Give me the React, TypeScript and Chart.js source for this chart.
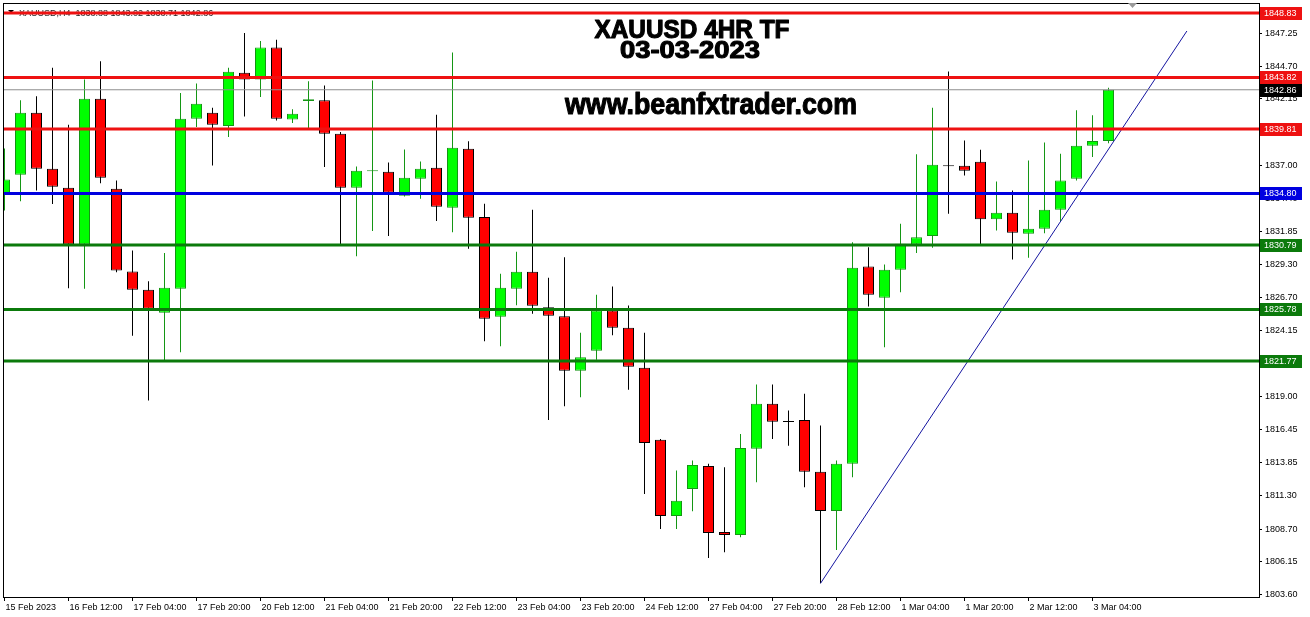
import React, { useEffect, useRef } from 'react';
import { Chart, registerables } from 'chart.js';

Chart.register(...registerables);

// ---------------- data ----------------
const symbolHeader = 'XAUUSD,H4  1838.88 1843.02 1838.71 1842.86';
const titleLine1 = 'XAUUSD 4HR TF';
const titleLine2 = '03-03-2023';
const siteText = 'www.beanfxtrader.com';

const opens = [
  1834.75, 1836.26, 1841.08, 1836.72, 1835.24, 1830.83, 1842.17, 1835.17, 1828.73, 1827.31,
  1825.52, 1827.39, 1840.61, 1841.08, 1840.04, 1844.19, 1843.65, 1846.14, 1840.54, 1841.98,
  1842.04, 1839.45, 1835.24, 1836.53, 1836.49, 1834.62, 1835.94, 1836.80, 1833.69, 1838.28,
  1832.96, 1825.21, 1827.39, 1828.71, 1825.95, 1825.25, 1821.01, 1822.56, 1825.70, 1824.35,
  1821.24, 1815.64, 1809.72, 1811.82, 1813.61, 1808.48, 1808.24, 1814.94, 1818.44, 1817.10,
  1817.19, 1813.15, 1810.11, 1813.77, 1829.12, 1826.69, 1828.86, 1830.83, 1831.48, 1837.00,
  1836.96, 1837.27, 1832.80, 1833.30, 1831.66, 1832.05, 1833.53, 1835.94, 1838.51, 1838.88,
];
const highs = [
  1838.30, 1842.04, 1842.35, 1844.58, 1840.15, 1843.65, 1845.07, 1835.81, 1830.37, 1827.98,
  1830.16, 1842.60, 1843.34, 1841.47, 1844.58, 1847.27, 1846.65, 1846.76, 1841.34, 1843.52,
  1843.20, 1839.57, 1836.90, 1843.59, 1837.21, 1838.22, 1837.29, 1840.92, 1845.75, 1838.85,
  1834.00, 1828.55, 1830.26, 1833.53, 1828.24, 1829.84, 1823.96, 1826.92, 1827.56, 1826.09,
  1823.96, 1815.71, 1813.25, 1814.03, 1813.77, 1813.50, 1816.10, 1819.94, 1819.94, 1817.92,
  1819.22, 1816.75, 1814.03, 1831.01, 1830.62, 1829.28, 1832.44, 1837.84, 1841.47, 1844.29,
  1838.92, 1838.20, 1835.73, 1835.03, 1837.37, 1838.77, 1837.89, 1841.26, 1840.87, 1843.02,
];
const lows = [
  1833.48, 1834.20, 1835.03, 1833.97, 1827.43, 1827.39, 1835.60, 1828.68, 1823.73, 1818.69,
  1821.81, 1822.45, 1839.96, 1836.98, 1839.18, 1840.79, 1842.29, 1840.48, 1840.27, 1839.83,
  1836.85, 1830.83, 1829.92, 1831.87, 1831.48, 1834.57, 1834.39, 1832.65, 1831.79, 1830.50,
  1823.31, 1822.92, 1826.11, 1825.44, 1817.19, 1818.25, 1818.95, 1821.86, 1823.77, 1819.53,
  1811.43, 1808.71, 1808.71, 1810.08, 1806.45, 1806.89, 1808.06, 1812.34, 1815.71, 1815.17,
  1811.95, 1804.48, 1807.08, 1812.73, 1826.01, 1822.84, 1827.12, 1830.16, 1830.58, 1833.22,
  1836.20, 1830.83, 1831.92, 1829.67, 1829.80, 1831.71, 1832.57, 1835.81, 1837.63, 1838.71,
];
const closes = [
  1835.89, 1841.08, 1836.72, 1835.32, 1830.83, 1842.17, 1836.02, 1828.81, 1827.31, 1825.83,
  1827.46, 1840.61, 1841.78, 1840.15, 1844.27, 1843.65, 1846.14, 1840.61, 1841.00, 1842.12,
  1839.45, 1835.24, 1836.57, 1836.61, 1834.85, 1836.02, 1836.72, 1833.77, 1838.36, 1832.91,
  1825.05, 1827.46, 1828.71, 1826.06, 1825.28, 1821.01, 1822.06, 1825.70, 1824.35, 1821.32,
  1815.40, 1809.72, 1810.91, 1813.69, 1808.40, 1808.24, 1815.01, 1818.44, 1817.04, 1817.02,
  1813.15, 1810.11, 1813.77, 1829.02, 1826.92, 1828.86, 1830.89, 1831.40, 1837.03, 1836.92,
  1836.57, 1832.80, 1833.30, 1831.74, 1832.05, 1833.53, 1835.81, 1838.51, 1838.88, 1842.86,
];

const xTickLabels = [
  '15 Feb 2023', '16 Feb 12:00', '17 Feb 04:00', '17 Feb 20:00', '20 Feb 12:00', '21 Feb 04:00',
  '21 Feb 20:00', '22 Feb 12:00', '23 Feb 04:00', '23 Feb 20:00', '24 Feb 12:00', '27 Feb 04:00',
  '27 Feb 20:00', '28 Feb 12:00', '1 Mar 04:00', '1 Mar 20:00', '2 Mar 12:00', '3 Mar 04:00',
];
const BARS_PER_LABEL = 4;

const yTickLabels = [
  '1847.25', '1844.70', '1842.15', '1839.55', '1837.00', '1834.40', '1831.85', '1829.30', '1826.70',
  '1824.15', '1821.55', '1819.00', '1816.45', '1813.85', '1811.30', '1808.70', '1806.15', '1803.60',
];

const resistanceLevels = [1848.83, 1843.82, 1839.81];
const pivotLevels = [1834.8];
const supportLevels = [1830.79, 1825.78, 1821.77];
const lastPrice = 1842.86;
const trendFrom = { bar: 51, price: 1804.48 };
const trendTo = { bar: 73.9, price: 1847.43 };

// ---------------- style ----------------
const FONT = '"Liberation Sans", Arial, sans-serif';
const RED = '#ee1111';
const BLUE = '#0000e0';
const GREEN = '#0b7a0b';
const BULL_FILL = '#00ff00';
const BULL_LINE = '#149614';
const BEAR_FILL = '#ff0000';
const BEAR_LINE = '#000000';
const X_MIN = -0.09375;
const X_MAX = 78.40625;
const Y_MIN = 1803.418;
const Y_MAX = 1849.608;

function fitText(ctx: CanvasRenderingContext2D, text: string, cx: number, baseline: number, size: number, width: number) {
  ctx.save();
  ctx.font = `bold ${size}px ${FONT}`;
  const w = ctx.measureText(text).width;
  ctx.translate(cx, baseline);
  ctx.scale(width / w, 1);
  ctx.textAlign = 'center';
  ctx.textBaseline = 'alphabetic';
  ctx.fillStyle = '#000';
  ctx.strokeStyle = '#000';
  ctx.lineWidth = 1.1;
  ctx.lineJoin = 'round';
  ctx.fillText(text, 0, 0);
  ctx.strokeText(text, 0, 0);
  ctx.restore();
}

const overlayPlugin = {
  id: 'mtOverlay',
  beforeDatasetsDraw(chart: any) {
    const ctx: CanvasRenderingContext2D = chart.ctx;
    ctx.save();
    ctx.fillStyle = '#000';
    ctx.beginPath();
    ctx.moveTo(8, 10);
    ctx.lineTo(14, 10);
    ctx.lineTo(11, 13);
    ctx.closePath();
    ctx.fill();
    ctx.font = `9px ${FONT}`;
    ctx.textAlign = 'left';
    ctx.textBaseline = 'alphabetic';
    ctx.fillStyle = '#222';
    ctx.fillText(symbolHeader, 19, 16);
    ctx.restore();
  },
  afterDraw(chart: any) {
    const ctx: CanvasRenderingContext2D = chart.ctx;
    const a = chart.chartArea;
    const y = chart.scales.y;
    ctx.save();
    // frame
    ctx.strokeStyle = '#000';
    ctx.lineWidth = 1;
    ctx.strokeRect(a.left + 0.5, a.top + 0.5, a.right - a.left, a.bottom - a.top);

    // shift marker
    ctx.fillStyle = '#9a9a9a';
    ctx.beginPath();
    ctx.moveTo(1128, 3);
    ctx.lineTo(1137, 3);
    ctx.lineTo(1132.5, 8);
    ctx.closePath();
    ctx.fill();

    // price boxes
    const boxes: [number, string][] = [
      ...resistanceLevels.map((v) => [v, RED] as [number, string]),
      ...pivotLevels.map((v) => [v, BLUE] as [number, string]),
      ...supportLevels.map((v) => [v, GREEN] as [number, string]),
      [lastPrice, '#000000'],
    ];
    ctx.font = `9px ${FONT}`;
    ctx.textAlign = 'left';
    ctx.textBaseline = 'middle';
    for (const [v, c] of boxes) {
      const py = Math.round(y.getPixelForValue(v));
      ctx.fillStyle = c;
      ctx.fillRect(a.right + 1, py - 6, 42, 13);
      ctx.fillStyle = '#fff';
      ctx.fillText(v.toFixed(2), a.right + 5, py + 0.5);
    }

    // titles
    fitText(ctx, titleLine1, 692, 38, 25, 195);
    fitText(ctx, titleLine2, 690, 58, 24, 140);
    fitText(ctx, siteText, 711, 114, 30, 292);
    ctx.restore();
  },
};

function levelDataset(v: number, color: string, width: number) {
  return {
    type: 'line' as const,
    data: [
      { x: X_MIN, y: v },
      { x: X_MAX, y: v },
    ],
    borderColor: color,
    borderWidth: width,
    pointRadius: 0,
    fill: false,
    tension: 0,
    order: 0,
    clip: 0,
  };
}

export default function App() {
  const ref = useRef<HTMLCanvasElement | null>(null);

  useEffect(() => {
    if (!ref.current) return;
    const bull = opens.map((o, i) => closes[i] >= o);
    const bodyData = opens.map((o, i) => ({ x: i, y: [o, closes[i]] }));
    const wickData = opens.map((_, i) => ({ x: i, y: [lows[i], highs[i]] }));
    const yTickValues = yTickLabels.map((s) => parseFloat(s));

    const datasets: any[] = [
      ...resistanceLevels.map((v) => levelDataset(v, RED, 3)),
      ...pivotLevels.map((v) => levelDataset(v, BLUE, 3)),
      ...supportLevels.map((v) => levelDataset(v, GREEN, 3)),
      levelDataset(lastPrice, '#8e8e8e', 1),
      {
        type: 'line',
        data: [
          { x: trendFrom.bar, y: trendFrom.price },
          { x: trendTo.bar, y: trendTo.price },
        ],
        borderColor: '#1414a0',
        borderWidth: 1,
        pointRadius: 0,
        fill: false,
        tension: 0,
        order: 0,
        clip: 0,
      },
      {
        type: 'bar',
        data: bodyData,
        backgroundColor: bull.map((b) => (b ? BULL_FILL : BEAR_FILL)),
        borderColor: bull.map((b) => (b ? BULL_LINE : BEAR_LINE)),
        borderWidth: 1,
        borderSkipped: false,
        grouped: false,
        barThickness: 11,
        maxBarThickness: 11,
        barPercentage: 1,
        categoryPercentage: 1,
        inflateAmount: 0,
        order: 1,
      },
      {
        type: 'bar',
        data: wickData,
        backgroundColor: bull.map((b) => (b ? BULL_LINE : BEAR_LINE)),
        borderWidth: 0,
        borderSkipped: false,
        grouped: false,
        barThickness: 1,
        maxBarThickness: 1,
        barPercentage: 1,
        categoryPercentage: 1,
        inflateAmount: 0,
        order: 2,
      },
    ];

    const chart = new Chart(ref.current, {
      type: 'bar',
      data: { datasets },
      plugins: [overlayPlugin],
      options: {
        responsive: false,
        animation: false,
        devicePixelRatio: 1,
        events: [],
        layout: { padding: { left: 3, top: 3, right: 0, bottom: 0 }, autoPadding: false },
        plugins: { legend: { display: false }, tooltip: { enabled: false }, title: { display: false } },
        scales: {
          x: {
            type: 'linear',
            min: X_MIN,
            max: X_MAX,
            offset: false,
            bounds: 'data',
            grid: { display: true, drawOnChartArea: false, drawTicks: true, tickLength: 4, color: '#000', offset: false },
            border: { display: false },
            afterBuildTicks: (s: any) => {
              s.ticks = xTickLabels.map((_, i) => ({ value: i * BARS_PER_LABEL }));
            },
            afterFit: (s: any) => {
              s.height = 20;
              s.paddingLeft = 0;
              s.paddingRight = 0;
            },
            ticks: {
              autoSkip: false,
              maxRotation: 0,
              minRotation: 0,
              align: 'start',
              labelOffset: 1,
              padding: 1,
              color: '#000',
              font: { family: FONT, size: 9 },
              callback: (_v: any, i: number) => xTickLabels[i],
            },
          },
          y: {
            type: 'linear',
            position: 'right',
            min: Y_MIN,
            max: Y_MAX,
            bounds: 'data',
            beginAtZero: false,
            grid: { display: true, drawOnChartArea: false, drawTicks: true, tickLength: 3, color: '#000' },
            border: { display: false },
            afterBuildTicks: (s: any) => {
              s.ticks = yTickValues.map((v) => ({ value: v }));
            },
            afterFit: (s: any) => {
              s.width = 51;
              s.paddingTop = 0;
              s.paddingBottom = 0;
            },
            ticks: {
              autoSkip: false,
              padding: 3,
              color: '#000',
              font: { family: FONT, size: 9 },
              callback: (v: any) => Number(v).toFixed(2),
            },
          },
        },
      } as any,
    });
    return () => chart.destroy();
  }, []);

  return (
    <div style={{ position: 'fixed', left: 0, top: 0, width: 1310, height: 617, background: '#fff' }}>
      <canvas ref={ref} width={1310} height={617} style={{ display: 'block' }} />
    </div>
  );
}
